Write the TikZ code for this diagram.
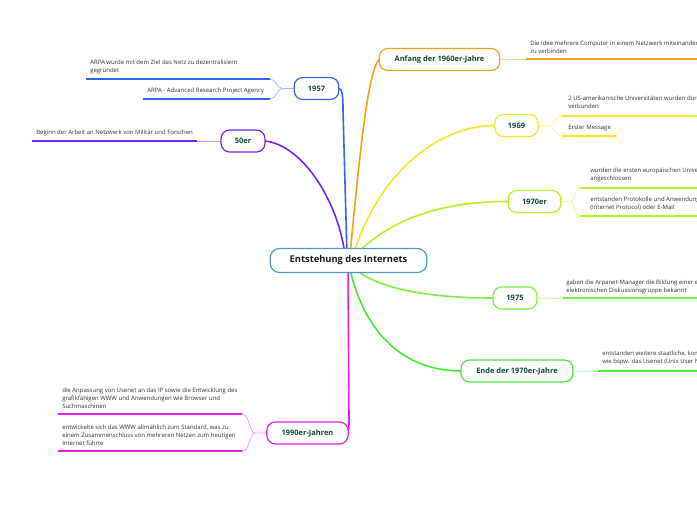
\documentclass[tikz,border=0pt]{standalone}
\usepackage{fontspec}
\setmainfont{Open Sans}
\definecolor{cCentral}{HTML}{4A9AD8}
\definecolor{cTopicText}{HTML}{12483A}
\definecolor{cLeafText}{HTML}{333333}
\definecolor{cOrange}{HTML}{F5A020}
\definecolor{cYellow}{HTML}{F2E82A}
\definecolor{cYGreen}{HTML}{B6F22A}
\definecolor{cGreenA}{HTML}{7CF040}
\definecolor{cGreenB}{HTML}{48E838}
\definecolor{cMagenta}{HTML}{E61EE6}
\definecolor{cBlue}{HTML}{3464F0}
\definecolor{cPurple}{HTML}{7424EE}
\tikzset{
  central/.style={draw=cCentral, line width=0.9pt, fill=white, rounded corners=7pt,
    minimum width=117.5pt, minimum height=18pt, inner sep=0pt,
    font=\fontsize{7}{8}\selectfont\bfseries, text=black!90},
  topic/.style={draw=#1, line width=0.9pt, fill=white, rounded corners=6.5pt,
    minimum height=16.5pt, inner sep=0pt,
    font=\fontsize{5.6}{7}\selectfont\bfseries, text=cTopicText},
  branch/.style={draw=#1, line width=1.2pt},
  twig/.style={draw=#1!45!white, line width=0.6pt},
  under/.style={draw=#1, line width=1.5pt},
  leaf/.style={anchor=base west, inner sep=0pt, align=left,
    font=\fontsize{4.5}{6.2}\selectfont, text=cLeafText},
}
\begin{document}
\begin{tikzpicture}[x=0.75pt,y=-0.75pt]
\useasboundingbox (0,0) rectangle (697,520);
\clip (0,0) rectangle (697,520);

% ---------- nodes (positions) ----------
\coordinate (cC) at (348.5,260.5);
% main branches (drawn first, under the nodes)
\draw[branch=cBlue] (339,88.5) .. controls (342,88.5) and (343,95) .. (343,110) -- (347,255);
\draw[branch=cOrange] (350,255) .. controls (360,150) and (368,72) .. (379,59.5);
\draw[branch=cPurple] (265,141) .. controls (302,145) and (338,200) .. (345,255);
\draw[branch=cYellow] (353,255) .. controls (380,170) and (440,125.5) .. (495,125.5);
\draw[branch=cYGreen] (355,255) .. controls (400,210) and (460,201.5) .. (508,201.5);
\draw[branch=cGreenA] (350,265) .. controls (378,292) and (440,298) .. (493,298);
\draw[branch=cGreenB] (349,265) .. controls (365,340) and (410,371) .. (461,371);
\draw[branch=cMagenta] (348,265) -- (349,418) .. controls (349,430) and (349,433) .. (345,433);

\node[central] (root) at (cC) {Entstehung des Internets};

\node[topic=cOrange, minimum width=90.5pt] (t60) at (439.5,59.5) {Anfang der 1960er-Jahre};
\node[topic=cYellow, minimum width=32.5pt] (t69) at (516.5,125.5) {1969};
\node[topic=cYGreen, minimum width=39.5pt] (t70) at (534.5,201.5) {1970er};
\node[topic=cGreenA, minimum width=33pt] (t75) at (515,298) {1975};
\node[topic=cGreenB, minimum width=84pt] (t79) at (517,371) {Ende der 1970er-Jahre};
\node[topic=cMagenta, minimum width=61pt] (t90) at (307.5,433) {1990er-Jahren};
\node[topic=cBlue, minimum width=33.5pt] (t57) at (316.5,88.5) {1957};
\node[topic=cPurple, minimum width=33pt] (t50) at (243,141) {50er};

% ---------- leaves ----------
% Anfang der 1960er-Jahre
\coordinate (a60s) at (526,59.5);
\coordinate (a60e) at (700,59.5);
\draw[twig=cOrange] (t60.east) -- (a60s);
\draw[under=cOrange] (a60s) -- (a60e);
\node[leaf] (l60) at (530,54) {Die Idee mehrere Computer in einem Netzwerk miteinander\\zu verbinden};

% 1969
\coordinate (s69) at (548,125.5);
\coordinate (a69s) at (562,116); \coordinate (a69e) at (700,116);
\coordinate (b69s) at (562,136); \coordinate (b69e) at (617,136);
\draw[twig=cYellow] (t69.east) -- (s69) .. controls (554,125.5) and (555,116) .. (a69s);
\draw[twig=cYellow] (s69) .. controls (554,125.5) and (555,136) .. (b69s);
\draw[under=cYellow] (a69s) -- (a69e);
\draw[under=cYellow] (b69s) -- (b69e);
\node[leaf] (l69a) at (568,109) {2 US-amerikanische Universitäten wurden durch das Arpanet\\verbunden};
\node[leaf] (l69b) at (568,130) {Erster Message};

% 1970er
\coordinate (s70) at (570,201.5);
\coordinate (a70s) at (580,188); \coordinate (a70e) at (700,188);
\coordinate (b70s) at (580,216); \coordinate (b70e) at (700,216);
\draw[twig=cYGreen] (t70.east) -- (s70) .. controls (575,201.5) and (574,188) .. (a70s);
\draw[twig=cYGreen] (s70) .. controls (575,201.5) and (574,216) .. (b70s);
\draw[under=cYGreen] (a70s) -- (a70e);
\draw[under=cYGreen] (b70s) -- (b70e);
\node[leaf] (l70a) at (590,181) {wurden die ersten europäischen Universitäten\\angeschlossen};
\node[leaf] (l70b) at (590,210) {entstanden Protokolle und Anwendungen wie IP\\(Internet Protocol) oder E-Mail};

% 1975
\coordinate (a75s) at (563,298.5); \coordinate (a75e) at (700,298.5);
\draw[twig=cGreenA] (t75.east) -- (a75s);
\draw[under=cGreenA] (a75s) -- (a75e);
\node[leaf] (l75) at (566,293) {gaben die Arpanet-Manager die Bildung einer ersten\\elektronischen Diskussionsgruppe bekannt};

% Ende der 1970er-Jahre
\coordinate (a79s) at (598,371.5); \coordinate (a79e) at (700,371.5);
\draw[twig=cGreenB] (t79.east) -- (a79s);
\draw[under=cGreenB] (a79s) -- (a79e);
\node[leaf] (l79) at (602,364) {entstanden weitere staatliche, kommerzielle Netze\\wie bspw. das Usenet (Unix User Network)};

% 1990er-Jahren
\coordinate (s90) at (255,433);
\coordinate (a90s) at (242,414); \coordinate (a90e) at (58,414);
\coordinate (b90s) at (242,451.5); \coordinate (b90e) at (58,451.5);
\draw[twig=cMagenta] (t90.west) -- (s90) .. controls (249,433) and (250,414) .. (a90s);
\draw[twig=cMagenta] (s90) .. controls (249,433) and (250,451.5) .. (b90s);
\draw[under=cMagenta] (a90s) -- (a90e);
\draw[under=cMagenta] (b90s) -- (b90e);
\node[leaf] (l90a) at (62,409) {die Anpassung von Usenet an das IP sowie die Entwicklung des\\grafikfähigen WWW und Anwendungen wie Browser und\\Suchmaschinen};
\node[leaf] (l90b) at (62,446) {entwickelte sich das WWW allmählich zum Standard, was zu\\einem Zusammenschluss von mehreren Netzen zum heutigen\\Internet führte};

% 1957
\coordinate (s57) at (282,88.5);
\coordinate (a57s) at (270,79); \coordinate (a57e) at (86,79);
\coordinate (b57s) at (270,99); \coordinate (b57e) at (143,99);
\draw[twig=cBlue] (t57.west) -- (s57) .. controls (277,88.5) and (276,79) .. (a57s);
\draw[twig=cBlue] (s57) .. controls (277,88.5) and (276,99) .. (b57s);
\draw[under=cBlue] (a57s) -- (a57e);
\draw[under=cBlue] (b57s) -- (b57e);
\node[leaf] (l57a) at (90,73) {ARPA wurde mit dem Ziel das Netz zu dezentralisiern\\gegründet};
\node[leaf] (l57b) at (147,93) {ARPA - Advanced Research Project Agency};

% 50er
\coordinate (a50s) at (197,141); \coordinate (a50e) at (32,141);
\draw[twig=cPurple] (t50.west) -- (a50s);
\draw[under=cPurple] (a50s) -- (a50e);
\node[leaf] (l50) at (36,135) {Beginn der Arbeit an Netzwerk von Militär und Forschen};
\end{tikzpicture}
\end{document}
